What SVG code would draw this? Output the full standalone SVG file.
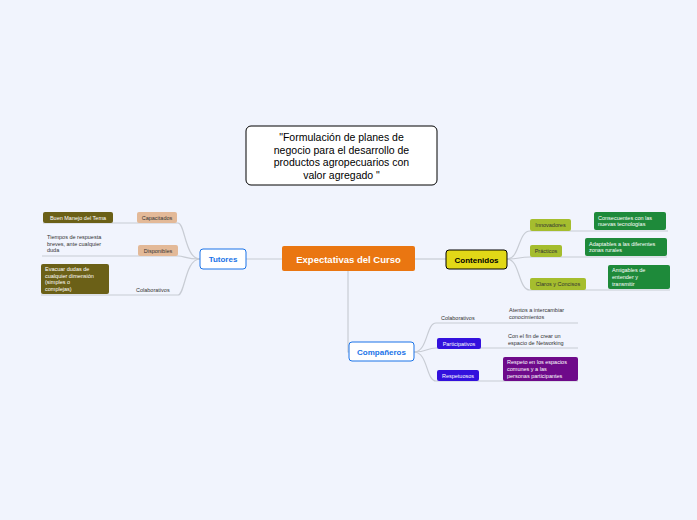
<svg xmlns="http://www.w3.org/2000/svg" width="697" height="520" viewBox="0 0 697 520">
<style>
text{font-family:"Liberation Sans",Arial,sans-serif}
.c{fill:none;stroke:#c8ccd4;stroke-width:1.2}
.s{font-size:5.5px;fill:#fff}
.d{font-size:5.5px;fill:#333}
.m{font-size:8px;font-weight:bold}
</style>
<rect width="697" height="520" fill="#f1f4fd"/>
<g id="connectors">
<path class="c" d="M246 259H282"/>
<path class="c" d="M415 259H446"/>
<path class="c" d="M348 271V352H349"/>
<path class="c" d="M200 259C185 259 185 223 178 223H43"/>
<path class="c" d="M200 259C185 259 185 256 178 256H42"/>
<path class="c" d="M200 259C185 259 185 295 178 295H41"/>
<path class="c" d="M507 259C520 259 518 231 530 231H668"/>
<path class="c" d="M507 259C520 259 518 257 530 257H667"/>
<path class="c" d="M507 259C520 259 518 290 530 290H670"/>
<path class="c" d="M414 352C428 352 426 323 436 323H578"/>
<path class="c" d="M414 352C428 352 426 348 436 348H578"/>
<path class="c" d="M414 352C428 352 426 381 436 381H578"/>
</g>
<g id="title"><rect x="246" y="126" width="191" height="59" rx="5" fill="#fff" stroke="#000"/>
<text x="341.5" y="141" text-anchor="middle" font-size="10.5"><tspan x="341.5">"Formulación de planes de</tspan><tspan x="341.5" dy="12.5">negocio para el desarrollo de</tspan><tspan x="341.5" dy="12.5">productos agropecuarios con</tspan><tspan x="341.5" dy="12.5">valor agregado "</tspan></text></g>
<g id="central"><rect x="282" y="246" width="133" height="25" rx="2" fill="#ea7611"/><text x="348.5" y="262.5" text-anchor="middle" font-size="9.5" font-weight="bold" fill="#fff">Expectativas del Curso</text></g>
<g id="tutores"><rect x="200" y="249" width="46" height="20" rx="3" fill="#fff" stroke="#1a73e8"/><text x="223" y="262" text-anchor="middle" class="m" fill="#1a73e8">Tutores</text></g>
<g id="contenidos"><rect x="446" y="250" width="61" height="19" rx="3" fill="#e2d817" stroke="#000"/><text x="476.5" y="262.5" text-anchor="middle" class="m" fill="#000">Contenidos</text></g>
<g id="companeros"><rect x="349" y="342" width="65" height="19" rx="3" fill="#fff" stroke="#1a73e8"/><text x="381.5" y="354.5" text-anchor="middle" class="m" fill="#1a73e8">Compañeros</text></g>
<g id="capacitados"><rect x="137" y="212" width="40" height="11" rx="2" fill="#e3b998"/><text x="157" y="219.5" text-anchor="middle" class="d" fill="#555">Capacitados</text></g>
<g id="buen"><rect x="43" y="212" width="70" height="11" rx="2" fill="#6b6017"/><text x="78" y="219.5" text-anchor="middle" class="s" fill="#e8e4c0">Buen Manejo del Tema</text></g>
<g id="disponibles"><rect x="138" y="245" width="40" height="11" rx="2" fill="#e3b998"/><text x="158" y="252.5" text-anchor="middle" class="d">Disponibles</text></g>
<g id="tiempos"><text x="47" y="239" class="d"><tspan x="47">Tiempos de respuesta</tspan><tspan x="47" dy="6.5">breves, ante cualquier</tspan><tspan x="47" dy="6.5">duda</tspan></text></g>
<g id="colab1"><text x="136" y="292" class="d">Colaborativos</text></g>
<g id="evacuar"><rect x="41" y="264" width="68" height="30" rx="2" fill="#6b6017"/><text x="45" y="271" class="s" fill="#e8e4c0"><tspan x="45">Evacuar dudas de</tspan><tspan x="45" dy="6.5">cualquier dimensión</tspan><tspan x="45" dy="6.5">(simples o</tspan><tspan x="45" dy="6.5">complejas)</tspan></text></g>
<g id="innovadores"><rect x="530" y="219" width="41" height="12" rx="2" fill="#a5bd2e"/><text x="550.5" y="227" text-anchor="middle" class="d">Innovadores</text></g>
<g id="consecuentes"><rect x="594" y="212" width="72" height="18" rx="2" fill="#1e8a3a"/><text x="598" y="219.5" class="s"><tspan x="598">Consecuentes con las</tspan><tspan x="598" dy="6.5">nuevas tecnologías</tspan></text></g>
<g id="practicos"><rect x="530" y="245" width="32" height="12" rx="2" fill="#a5bd2e"/><text x="546" y="253" text-anchor="middle" class="d">Prácticos</text></g>
<g id="adaptables"><rect x="585" y="238" width="82" height="18" rx="2" fill="#1e8a3a"/><text x="589" y="245.5" class="s"><tspan x="589">Adaptables a las diferentes</tspan><tspan x="589" dy="6.5">zonas rurales</tspan></text></g>
<g id="claros"><rect x="530" y="278" width="56" height="12" rx="2" fill="#a5bd2e"/><text x="558" y="286" text-anchor="middle" class="d">Claros y Concisos</text></g>
<g id="amigables"><rect x="608" y="265" width="62" height="24" rx="2" fill="#1e8a3a"/><text x="612" y="272" class="s"><tspan x="612">Amigables de</tspan><tspan x="612" dy="7">entender y</tspan><tspan x="612" dy="7">transmitir</tspan></text></g>
<g id="colab2"><text x="441" y="320" class="d">Colaborativos</text></g>
<g id="atentos"><text x="509" y="312" class="d"><tspan x="509">Atentos a intercambiar</tspan><tspan x="509" dy="7">conocimientos</tspan></text></g>
<g id="participativos"><rect x="437" y="338" width="44" height="11" rx="2" fill="#3311dd"/><text x="459" y="345.5" text-anchor="middle" class="s">Participativos</text></g>
<g id="confin"><text x="508" y="338" class="d"><tspan x="508">Con el fin de crear un</tspan><tspan x="508" dy="7">espacio de Networking</tspan></text></g>
<g id="respetuosos"><rect x="437" y="370" width="42" height="11" rx="2" fill="#3311dd"/><text x="458" y="377.5" text-anchor="middle" class="s">Respetuosos</text></g>
<g id="respeto"><rect x="503" y="357" width="75" height="24" rx="2" fill="#6e0a8a"/><text x="507" y="364" class="s"><tspan x="507">Respeto en los espacios</tspan><tspan x="507" dy="7">comunes y a las</tspan><tspan x="507" dy="7">personas participantes</tspan></text></g>
</svg>
